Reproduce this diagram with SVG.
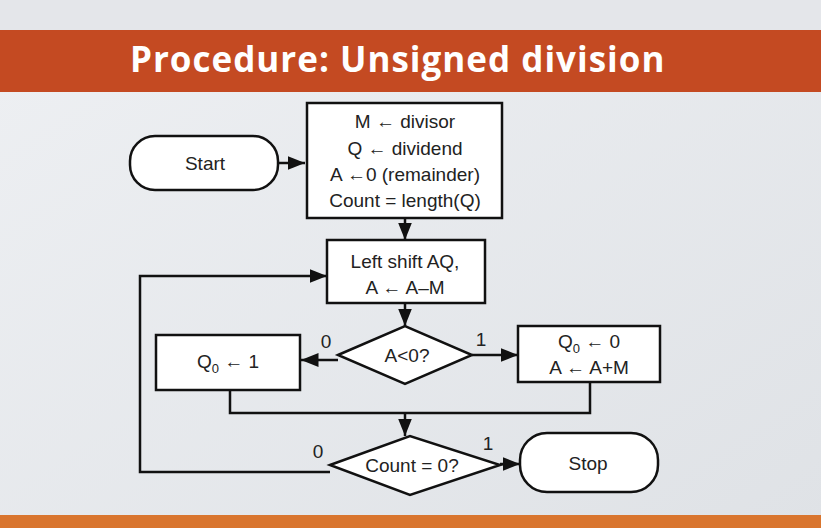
<svg xmlns="http://www.w3.org/2000/svg" width="821" height="528" viewBox="0 0 821 528">
<defs>
<linearGradient id="bg" x1="0" y1="0" x2="1" y2="1"><stop offset="0" stop-color="#eef0f3"/><stop offset="1" stop-color="#dfe2e6"/></linearGradient>
<marker id="ar" viewBox="0 0 10 10" refX="10" refY="5" markerWidth="7" markerHeight="7" orient="auto"><path d="M0,1 L10,5 L0,9 z" fill="#111"/></marker>
</defs>
<style>
.b{fill:#fff;stroke:#111;stroke-width:2.5}
.t{font-family:"Liberation Sans",Arial,sans-serif;font-size:19px;fill:#222;text-anchor:middle}
.l{fill:none;stroke:#111;stroke-width:2.5}
</style>
<rect width="821" height="528" fill="url(#bg)"/>
<rect y="0" width="821" height="30" fill="#e4e6ea"/>
<rect y="30" width="821" height="62" fill="#c44a22"/>
<rect y="515" width="821" height="13" fill="#d9752e"/>
<text x="130" y="72" font-family="'Open Sans','DejaVu Sans',sans-serif" font-weight="bold" font-size="35" letter-spacing="1" fill="#fff">Procedure: Unsigned division</text>
<g id="connectors">
<line class="l" x1="278" y1="163" x2="305" y2="163" marker-end="url(#ar)"/>
<line class="l" x1="405" y1="218" x2="405" y2="240" marker-end="url(#ar)"/>
<line class="l" x1="405" y1="303" x2="405" y2="326" marker-end="url(#ar)"/>
<line class="l" x1="338" y1="360" x2="301" y2="360" marker-end="url(#ar)"/>
<line class="l" x1="472" y1="355" x2="518" y2="355" marker-end="url(#ar)"/>
<polyline class="l" points="230,390 230,413 590,413 590,382"/>
<line class="l" x1="405" y1="413" x2="405" y2="436" marker-end="url(#ar)"/>
<line class="l" x1="500" y1="464" x2="520" y2="464" marker-end="url(#ar)"/>
<polyline class="l" points="330,472 140,472 140,276 327,276" marker-end="url(#ar)"/>
<text class="t" x="326" y="348" font-size="17">0</text>
<text class="t" x="481" y="346" font-size="17">1</text>
<text class="t" x="318" y="458" font-size="17">0</text>
<text class="t" x="488" y="450" font-size="17">1</text>
</g>
<g id="start"><rect class="b" x="130" y="136" width="148" height="54" rx="25"/><text class="t" x="205" y="170">Start</text></g>
<g id="init"><rect class="b" x="307" y="103" width="195" height="115"/>
<text class="t" x="405" y="128">M ← divisor</text>
<text class="t" x="405" y="155">Q ← dividend</text>
<text class="t" x="405" y="181">A ←0 (remainder)</text>
<text class="t" x="405" y="207">Count = length(Q)</text></g>
<g id="shift"><rect class="b" x="327" y="240" width="158" height="63"/>
<text class="t" x="405" y="268">Left shift AQ,</text>
<text class="t" x="405" y="294">A ← A–M</text></g>
<g id="test1"><polygon class="b" points="338,355 405,326 472,355 405,384"/><text class="t" x="407" y="362">A&lt;0?</text></g>
<g id="q1"><rect class="b" x="156" y="335" width="144" height="55"/><text class="t" x="228" y="368">Q<tspan font-size="13" dy="5">0</tspan><tspan dy="-5"> ← 1</tspan></text></g>
<g id="q0"><rect class="b" x="518" y="326" width="142" height="56"/>
<text class="t" x="589" y="348">Q<tspan font-size="13" dy="5">0</tspan><tspan dy="-5"> ← 0</tspan></text>
<text class="t" x="589" y="374">A ← A+M</text></g>
<g id="test2"><polygon class="b" points="330,465 410,436 500,465 410,495"/><text class="t" x="412" y="472">Count = 0?</text></g>
<g id="stop"><rect class="b" x="520" y="433" width="138" height="59" rx="27"/><text class="t" x="588" y="470">Stop</text></g>
</svg>
